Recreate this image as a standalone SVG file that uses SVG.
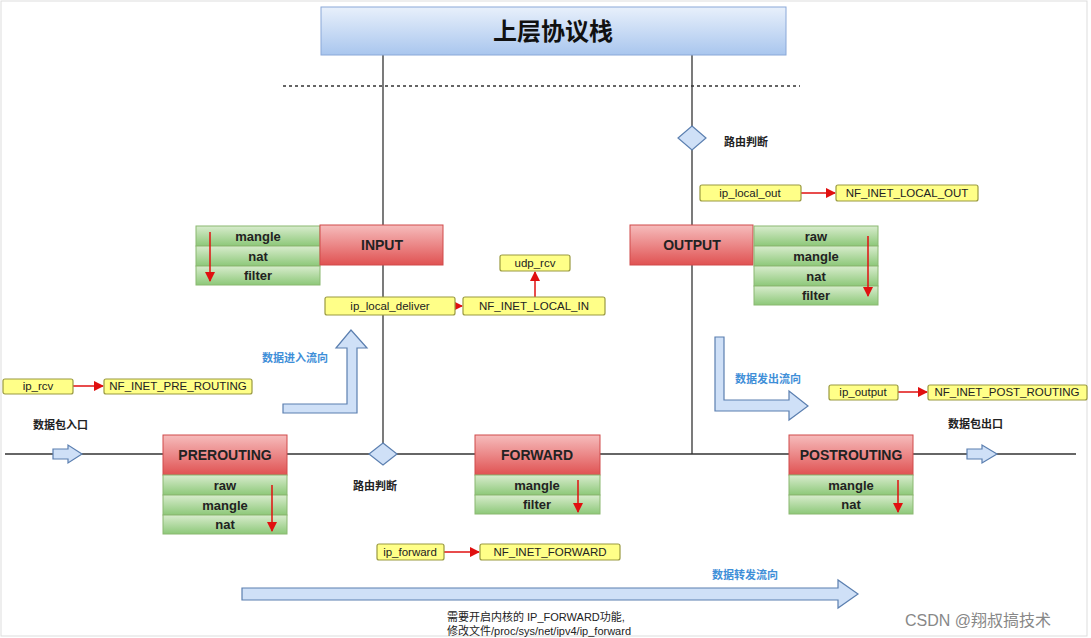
<svg xmlns="http://www.w3.org/2000/svg" width="1091" height="638" viewBox="0 0 1091 638">
<defs>
<linearGradient id="red" x1="0" y1="0" x2="0" y2="1"><stop offset="0" stop-color="#f6bcbc"/><stop offset="1" stop-color="#e05252"/></linearGradient>
<linearGradient id="grn" x1="0" y1="0" x2="0" y2="1"><stop offset="0" stop-color="#d8eccd"/><stop offset="1" stop-color="#8dc879"/></linearGradient>
<linearGradient id="blu" x1="0" y1="0" x2="0" y2="1"><stop offset="0" stop-color="#e8f0fb"/><stop offset="1" stop-color="#a9c6ee"/></linearGradient>
<marker id="ra" viewBox="0 0 10 10" refX="9" refY="5" markerWidth="7" markerHeight="7" orient="auto"><path d="M0,0L10,5L0,10z" fill="#e01010"/></marker>
<style>
text{font-family:"Liberation Sans","Noto Sans CJK SC",sans-serif;}
.b{font-weight:bold;font-size:14px;text-anchor:middle;fill:#222;}
.t{font-weight:bold;font-size:13px;text-anchor:middle;fill:#222;}
.y{fill:#ffff88;stroke:#9a9a40;stroke-width:1.2;}
.yt{font-size:11.5px;text-anchor:middle;fill:#222;}
.r{fill:url(#red);stroke:#d04a4a;}
.g{fill:url(#grn);stroke:#8ab870;}
.ln{stroke:#333;stroke-width:1.3;fill:none;}
.ra{stroke:#e01010;stroke-width:1.5;fill:none;marker-end:url(#ra);}
.ba{fill:#cfe0f7;stroke:#5b7fb0;stroke-width:1.2;}
.cn{font-weight:bold;font-size:11px;fill:#222;}
.bl{font-weight:bold;font-size:11px;fill:#3f8fd8;}
</style>
</defs>
<rect x="1" y="1" width="1086" height="635" fill="#fff" stroke="#ddd"/>
<g id="connectors">
<line class="ln" x1="283" y1="86" x2="800" y2="86" stroke-dasharray="3,3"/>
<line class="ln" x1="383" y1="55" x2="383" y2="454"/>
<line class="ln" x1="692" y1="55" x2="692" y2="454"/>
<line class="ln" x1="5" y1="454" x2="1076" y2="454"/>
<line class="ra" x1="455" y1="306" x2="462" y2="306"/>
<line class="ra" x1="535" y1="297" x2="535" y2="272"/>
<line class="ra" x1="801" y1="193" x2="835" y2="193"/>
<line class="ra" x1="73" y1="386" x2="103" y2="386"/>
<line class="ra" x1="444" y1="552" x2="479" y2="552"/>
<line class="ra" x1="898" y1="392" x2="927" y2="392"/>
</g>
<g id="top"><rect x="321" y="7" width="465" height="48" fill="url(#blu)" stroke="#8aa8d8"/><text x="553" y="40" font-size="24" font-weight="bold" text-anchor="middle" fill="#111">上层协议栈</text></g>
<g id="route1"><path d="M692,126L706,138L692,150L678,138z" class="ba"/><text class="cn" x="724" y="146">路由判断</text></g>
<g id="route2"><path d="M383,443L397,454L383,465L369,454z" class="ba"/><text class="cn" x="353" y="490">路由判断</text></g>
<g id="input">
<rect class="g" x="196" y="226" width="124" height="20"/><rect class="g" x="196" y="246" width="124" height="20"/><rect class="g" x="196" y="266" width="124" height="19"/>
<text class="t" x="258" y="241">mangle</text><text class="t" x="258" y="261">nat</text><text class="t" x="258" y="280">filter</text>
<line class="ra" x1="210" y1="232" x2="210" y2="281"/>
<rect class="r" x="320" y="225" width="123" height="40"/><text class="b" x="382" y="250">INPUT</text>
</g>
<g id="output">
<rect class="r" x="630" y="225" width="123" height="40"/><text class="b" x="692" y="250">OUTPUT</text>
<rect class="g" x="754" y="226" width="124" height="20"/><rect class="g" x="754" y="246" width="124" height="20"/><rect class="g" x="754" y="266" width="124" height="20"/><rect class="g" x="754" y="286" width="124" height="19"/>
<text class="t" x="816" y="241">raw</text><text class="t" x="816" y="261">mangle</text><text class="t" x="816" y="281">nat</text><text class="t" x="816" y="300">filter</text>
<line class="ra" x1="868" y1="236" x2="868" y2="296"/>
</g>
<g id="prerouting">
<rect class="r" x="163" y="435" width="124" height="40"/><text class="b" x="225" y="460">PREROUTING</text>
<rect class="g" x="163" y="475" width="124" height="20"/><rect class="g" x="163" y="495" width="124" height="20"/><rect class="g" x="163" y="515" width="124" height="19"/>
<text class="t" x="225" y="490">raw</text><text class="t" x="225" y="510">mangle</text><text class="t" x="225" y="529">nat</text>
<line class="ra" x1="272" y1="485" x2="272" y2="531"/>
</g>
<g id="forward">
<rect class="r" x="475" y="435" width="125" height="40"/><text class="b" x="537" y="460">FORWARD</text>
<rect class="g" x="475" y="475" width="125" height="20"/><rect class="g" x="475" y="495" width="125" height="19"/>
<text class="t" x="537" y="490">mangle</text><text class="t" x="537" y="509">filter</text>
<line class="ra" x1="578" y1="480" x2="578" y2="512"/>
</g>
<g id="postrouting">
<rect class="r" x="789" y="435" width="124" height="40"/><text class="b" x="851" y="460">POSTROUTING</text>
<rect class="g" x="789" y="475" width="124" height="20"/><rect class="g" x="789" y="495" width="124" height="19"/>
<text class="t" x="851" y="490">mangle</text><text class="t" x="851" y="509">nat</text>
<line class="ra" x1="898" y1="480" x2="898" y2="512"/>
</g>
<g id="labels">
<rect class="y" x="325" y="297" width="130" height="18" rx="2"/><text class="yt" x="390" y="310">ip_local_deliver</text>
<rect class="y" x="463" y="297" width="142" height="18" rx="2"/><text class="yt" x="534" y="310">NF_INET_LOCAL_IN</text>
<rect class="y" x="500" y="255" width="70" height="16" rx="2"/><text class="yt" x="535" y="267">udp_rcv</text>
<rect class="y" x="700" y="185" width="101" height="16" rx="2"/><text class="yt" x="750" y="197">ip_local_out</text>
<rect class="y" x="836" y="185" width="142" height="16" rx="2"/><text class="yt" x="907" y="197">NF_INET_LOCAL_OUT</text>
<rect class="y" x="3" y="379" width="70" height="15" rx="2"/><text class="yt" x="38" y="390">ip_rcv</text>
<rect class="y" x="104" y="379" width="148" height="15" rx="2"/><text class="yt" x="178" y="390">NF_INET_PRE_ROUTING</text>
<rect class="y" x="377" y="544" width="67" height="16" rx="2"/><text class="yt" x="410" y="556">ip_forward</text>
<rect class="y" x="480" y="544" width="140" height="16" rx="2"/><text class="yt" x="550" y="556">NF_INET_FORWARD</text>
<rect class="y" x="829" y="385" width="69" height="15" rx="2"/><text class="yt" x="863" y="396">ip_output</text>
<rect class="y" x="928" y="385" width="159" height="15" rx="2"/><text class="yt" x="1007" y="396">NF_INET_POST_ROUTING</text>
</g>
<g id="flows">
<path class="ba" d="M283,404L283,413L357,413L357,348L367,348L351,330L336,348L347,348L347,404z"/>
<text class="bl" x="262" y="362">数据进入流向</text>
<path class="ba" d="M715,337L724,337L724,400L789,400L789,391L808,406L789,420L789,411L715,411z"/>
<text class="bl" x="735" y="383">数据发出流向</text>
<path class="ba" d="M242,588L838,588L838,580L858,594L838,608L838,600L242,600z"/>
<text class="bl" x="712" y="579">数据转发流向</text>
<path class="ba" d="M53,449L68,449L68,445L82,454L68,463L68,459L53,459z"/>
<path class="ba" d="M967,449L982,449L982,445L997,454L982,463L982,459L967,459z"/>
<text class="cn" x="33" y="429">数据包入口</text>
<text class="cn" x="948" y="428">数据包出口</text>
<text x="447" y="621" font-size="11" fill="#222">需要开启内核的 IP_FORWARD功能,</text>
<text x="447" y="635" font-size="11" fill="#222">修改文件/proc/sys/net/ipv4/ip_forward</text>
<text x="905" y="626" font-size="16" fill="#888">CSDN @翔叔搞技术</text>
</g>
</svg>
